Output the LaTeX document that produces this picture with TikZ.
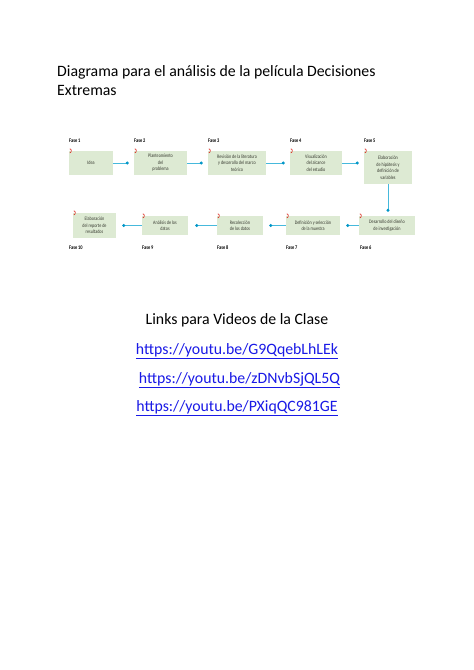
\documentclass[tikz,border=0pt]{standalone}
\usepackage{fontspec}
\setmainfont{Carlito}
\newfontfamily\condfont[FakeStretch=0.8]{Carlito}
\usetikzlibrary{arrows.meta,calc}
\definecolor{boxfill}{RGB}{221,234,211}
\definecolor{arrc}{RGB}{70,185,220}
\definecolor{dotc}{RGB}{0,150,200}
\definecolor{boxtext}{RGB}{55,58,48}
\definecolor{linkblue}{RGB}{25,25,230}
\definecolor{markred}{RGB}{220,40,30}
\begin{document}
\begin{tikzpicture}[x=1pt,y=-1pt,
  phase/.style={fill=boxfill, inner sep=0pt, align=center, text=boxtext,
    font=\condfont\fontsize{5.2}{6.5}\selectfont},
  faselbl/.style={anchor=west, inner sep=0pt, text=black,
    font=\condfont\bfseries\fontsize{5.5}{6}\selectfont},
  flow/.style={draw=arrc, line width=0.6pt, -{Circle[length=3pt,fill=dotc,color=dotc]}},
  bigtext/.style={inner sep=0pt, font=\fontsize{15.8}{19}\selectfont},
  linktext/.style={inner sep=0pt, anchor=base, text=linkblue, font=\fontsize{15.8}{19}\selectfont}]
\useasboundingbox[fill=white] (0,0) rectangle (474,670);

% title
\node[bigtext, anchor=base west] (t1) at (57,76) {Diagrama para el análisis de la película Decisiones};
\node[bigtext, anchor=base west] (t2) at (57,95) {Extremas};

% row 1
\node[phase, minimum width=44pt, minimum height=24pt] (B1) at (91,163) {Idea};
\node[phase, minimum width=53pt, minimum height=24pt] (B2) at (160.5,163) {Planteamiento\\del\\problema};
\node[phase, minimum width=58pt, minimum height=24pt] (B3) at (237,163) {Revisión de la literatura\\y desarrollo del marco\\teórico};
\node[phase, minimum width=52pt, minimum height=24pt] (B4) at (316,163) {Visualización\\del alcance\\del estudio};
\node[phase, minimum width=48pt, minimum height=33pt] (B5) at (388,167.5) {Elaboración\\de hipótesis y\\definición de\\variables};
% row 2
\node[phase, minimum width=56pt, minimum height=19pt] (B6) at (387,225.5) {Desarrollo del diseño\\de investigación};
\node[phase, minimum width=54pt, minimum height=19pt] (B7) at (313,225.5) {Definición y selección\\de la muestra};
\node[phase, minimum width=46pt, minimum height=19pt] (B8) at (240,225.5) {Recolección\\de los datos};
\node[phase, minimum width=46pt, minimum height=19pt] (B9) at (165,225.5) {Análisis de los\\datos};
\node[phase, minimum width=43pt, minimum height=25pt] (B10) at (94.5,225.5) {Elaboración\\del reporte de\\resultados};

% red corner marks
\foreach \n in {B1,B2,B3,B4,B5,B6,B7,B8,B9,B10}
  \draw[markred, line width=0.6pt] ([shift={(1,-2)}]\n.north west) .. controls +(2,0) and +(2,0) .. +(0,4);

% phase labels
\node[faselbl] (F1) at (69,141) {Fase 1};
\node[faselbl] (F2) at (134,141) {Fase 2};
\node[faselbl] (F3) at (208,141) {Fase 3};
\node[faselbl] (F4) at (290,141) {Fase 4};
\node[faselbl] (F5) at (364,141) {Fase 5};
\node[faselbl] (F6) at (360,248) {Fase 6};
\node[faselbl] (F7) at (286,248) {Fase 7};
\node[faselbl] (F8) at (217,248) {Fase 8};
\node[faselbl] (F9) at (142,248) {Fase 9};
\node[faselbl] (F10) at (69,248) {Fase 10};

% connectors
\draw[flow, shorten >=5pt] (B1.east) -- (B2.west);
\draw[flow, shorten >=5pt] (B2.east) -- (B3.west);
\draw[flow, shorten >=5pt] (B3.east) -- (B4.west);
\draw[flow, shorten >=5pt] (B4.east) -- (B4.east -| B5.west);
\draw[flow, shorten >=4pt] (B5.south) -- (B5.south |- B6.north);
\draw[flow, shorten >=6pt] (B6.west) -- (B7.east);
\draw[flow, shorten >=6pt] (B7.west) -- (B8.east);
\draw[flow, shorten >=7pt] (B8.west) -- (B9.east);
\draw[flow, shorten >=6pt] (B9.west) -- (B10.east);

% links
\node[bigtext, anchor=base] (h) at (237,324) {Links para Videos de la Clase};
\node[linktext] (l1) at (237,354) {\underline{https://youtu.be/G9QqebLhLEk}};
\node[linktext] (l2) at (239.5,383) {\underline{https://youtu.be/zDNvbSjQL5Q}};
\node[linktext] (l3) at (237,411) {\underline{https://youtu.be/PXiqQC981GE}};
\end{tikzpicture}
\end{document}
